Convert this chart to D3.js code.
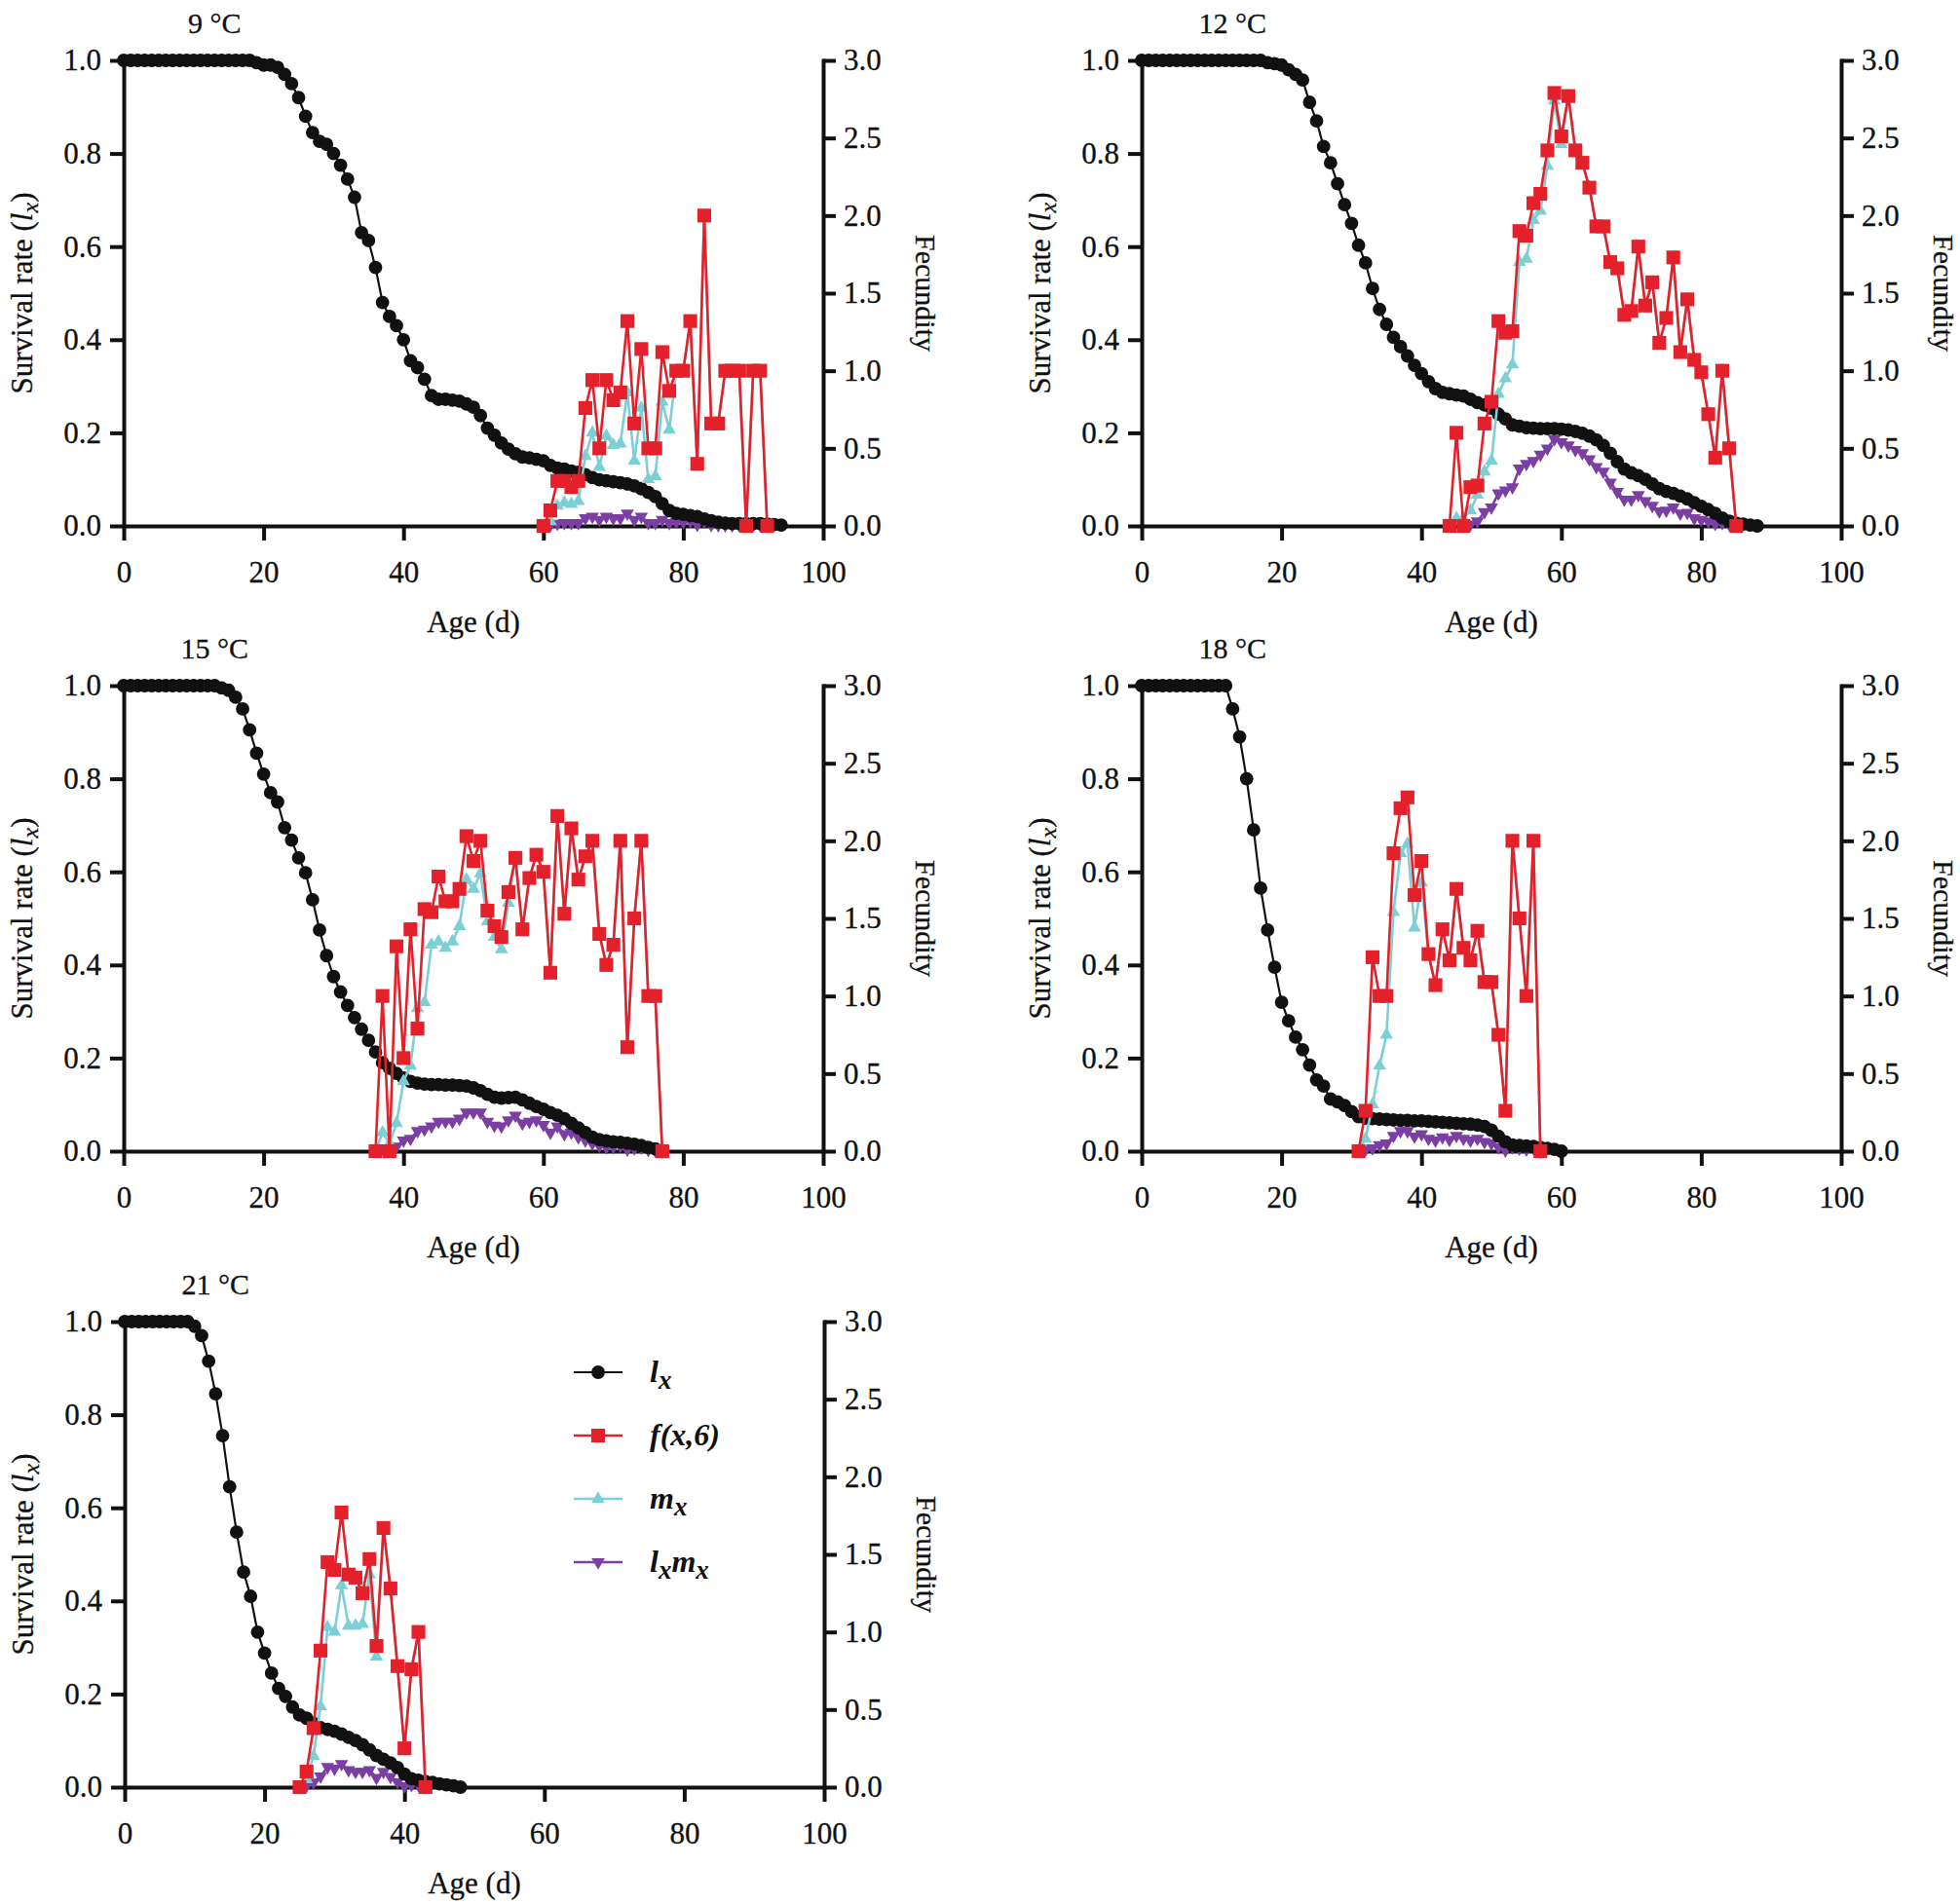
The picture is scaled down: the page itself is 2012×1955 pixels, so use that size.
<!DOCTYPE html>
<html>
<head>
<meta charset="utf-8">
<script src="https://cdn.jsdelivr.net/npm/d3@7"></script>
<style>
    body { margin: 0; background: #fff; }
</style>
</head>
<body>
<div class="canvas"></div>
<script>
// survival rate lx, one value per day starting at day 0
const lx9 = [
    1, 1, 1, 1, 1, 1, 1, 1, 1, 1,
    1, 1, 1, 1, 1, 1, 1, 1, 1, 0.995,
    0.99, 0.99, 0.985, 0.97, 0.95, 0.92, 0.88, 0.845, 0.826, 0.82,
    0.80, 0.775, 0.745, 0.706, 0.63, 0.613, 0.555, 0.48, 0.45, 0.43,
    0.40, 0.355, 0.34, 0.315, 0.28, 0.272, 0.272, 0.27, 0.268, 0.262,
    0.255, 0.237, 0.21, 0.195, 0.178, 0.165, 0.155, 0.148, 0.146, 0.143,
    0.14, 0.13, 0.124, 0.122, 0.118, 0.115, 0.11, 0.104, 0.099, 0.097,
    0.095, 0.093, 0.09, 0.086, 0.08, 0.072, 0.063, 0.048, 0.033, 0.027,
    0.025, 0.022, 0.02, 0.015, 0.011, 0.008, 0.006, 0.005, 0.005, 0.005,
    0.005, 0.005, 0.004, 0.003, 0.002
];
const lx12 = [
    1, 1, 1, 1, 1, 1, 1, 1, 1, 1,
    1, 1, 1, 1, 1, 1, 1, 1, 0.995, 0.993,
    0.99, 0.98, 0.97, 0.958, 0.91, 0.87, 0.815, 0.78, 0.735, 0.69,
    0.65, 0.603, 0.565, 0.51, 0.465, 0.433, 0.405, 0.385, 0.365, 0.345,
    0.327, 0.31, 0.295, 0.287, 0.284, 0.281, 0.279, 0.272, 0.265, 0.26,
    0.253, 0.24, 0.23, 0.217, 0.214, 0.211, 0.21, 0.209, 0.209, 0.209,
    0.208, 0.206, 0.203, 0.199, 0.193, 0.185, 0.173, 0.156, 0.138, 0.122,
    0.114, 0.108, 0.1, 0.09, 0.08, 0.074, 0.07, 0.064, 0.058, 0.05,
    0.042, 0.035, 0.027, 0.017, 0.01, 0.006, 0.004, 0.002, 0
];
const lx15 = [
    1, 1, 1, 1, 1, 1, 1, 1, 1, 1,
    1, 1, 1, 1, 0.995, 0.99, 0.975, 0.95, 0.905, 0.855,
    0.81, 0.77, 0.75, 0.695, 0.668, 0.63, 0.598, 0.54, 0.475, 0.42,
    0.375, 0.342, 0.313, 0.287, 0.262, 0.238, 0.213, 0.19, 0.178, 0.167,
    0.157, 0.15, 0.146, 0.144, 0.143, 0.143, 0.142, 0.142, 0.141, 0.14,
    0.136, 0.13, 0.122, 0.116, 0.114, 0.115, 0.116, 0.11, 0.103, 0.096,
    0.09, 0.083, 0.077, 0.07, 0.06, 0.05, 0.04, 0.03, 0.025, 0.022,
    0.02, 0.019, 0.017, 0.015, 0.012, 0.008, 0.005, 0
];
const lx18 = [
    1, 1, 1, 1, 1, 1, 1, 1, 1, 1,
    1, 1, 1, 0.95, 0.89, 0.80, 0.69, 0.565, 0.475, 0.395,
    0.32, 0.28, 0.245, 0.218, 0.185, 0.153, 0.14, 0.112, 0.106, 0.098,
    0.085, 0.074, 0.071, 0.07, 0.069, 0.068, 0.067, 0.066, 0.066, 0.065,
    0.065, 0.064, 0.063, 0.062, 0.061, 0.06, 0.059, 0.058, 0.056, 0.053,
    0.045, 0.032, 0.02, 0.013, 0.012, 0.011, 0.01, 0.008, 0.006, 0.004,
    0
];
const lx21 = [
    1, 1, 1, 1, 1, 1, 1, 1, 1, 1,
    0.99, 0.97, 0.915, 0.845, 0.755, 0.645, 0.548, 0.462, 0.41, 0.333,
    0.288, 0.245, 0.212, 0.195, 0.172, 0.155, 0.148, 0.137, 0.128, 0.124,
    0.12, 0.114, 0.107, 0.1, 0.091, 0.08, 0.068, 0.06, 0.052, 0.042,
    0.028, 0.018, 0.015, 0.012, 0.01, 0.007, 0.005, 0.003, 0
];

// fecundity series: first day, then one value per day
const fx9Start = 60;
const fx9 = [0, 0.10, 0.29, 0.29, 0.25, 0.29, 0.76, 0.94, 0.50, 0.94, 0.81, 0.86, 1.32, 0.66, 1.14, 0.50, 0.50, 1.12, 0.87, 1.0, 1.0, 1.32, 0.40, 2.0, 0.66, 0.66, 1.0, 1.0, 1.0, 0, 1.0, 1.0, 0];
const mx9Start = 61;
const mx9 = [0.03, 0.13, 0.15, 0.14, 0.16, 0.45, 0.60, 0.38, 0.58, 0.52, 0.53, 0.86, 0.42, 0.76, 0.30, 0.32, 0.80, 0.62, 1.0, 1.0, 1.32, 0.40, 2.0, 0.66, 0.66, 1.0, 1.0, 1.0, 0, 1.0, 1.0, 0];
const lxmx9Start = 61;
const lxmx9 = [0.005, 0.015, 0.02, 0.02, 0.02, 0.05, 0.06, 0.04, 0.06, 0.05, 0.05, 0.08, 0.04, 0.06, 0.02, 0.02, 0.04, 0.02, 0.027, 0.025, 0.03, 0.008, 0.03, 0.007, 0.005, 0.006, 0.005, 0.005, 0, 0.005, 0.005, 0];

const fx12Start = 44;
const fx12 = [0, 0.60, 0, 0.25, 0.26, 0.66, 0.80, 1.32, 1.245, 1.255, 1.90, 1.87, 2.08, 2.14, 2.42, 2.79, 2.51, 2.77, 2.42, 2.34, 2.18, 1.93, 1.93, 1.70, 1.66, 1.36, 1.385, 1.80, 1.42, 1.57, 1.18, 1.34, 1.73, 1.12, 1.46, 1.07, 0.99, 0.72, 0.44, 1.0, 0.50, 0];
const mx12Start = 45;
const mx12 = [0.05, 0.05, 0.1, 0.2, 0.35, 0.42, 0.85, 0.95, 1.04, 1.70, 1.72, 1.97, 2.03, 2.32, 2.74, 2.46, 2.77, 2.42, 2.34, 2.18, 1.93, 1.93, 1.70, 1.66, 1.36, 1.385, 1.80, 1.42, 1.57, 1.18, 1.34, 1.73, 1.12, 1.46, 1.07, 0.99, 0.72, 0.44, 1.0, 0.50, 0];
const lxmx12Start = 46;
const lxmx12 = [0, 0.01, 0.03, 0.09, 0.12, 0.21, 0.23, 0.25, 0.37, 0.40, 0.42, 0.46, 0.50, 0.56, 0.54, 0.52, 0.49, 0.47, 0.43, 0.38, 0.35, 0.28, 0.22, 0.17, 0.17, 0.2, 0.16, 0.13, 0.095, 0.1, 0.12, 0.08, 0.085, 0.05, 0.04, 0.03, 0.015, 0.02, 0.01, 0];

const fx15Start = 36;
const fx15 = [0, 1.0, 0, 1.32, 0.60, 1.43, 0.79, 1.56, 1.54, 1.77, 1.61, 1.61, 1.69, 2.03, 1.87, 2.0, 1.55, 1.45, 1.38, 1.67, 1.89, 1.43, 1.76, 1.91, 1.80, 1.15, 2.16, 1.53, 2.08, 1.75, 1.90, 2.0, 1.40, 1.20, 1.33, 2.0, 0.67, 1.50, 2.0, 1.0, 1.0, 0];
const mx15Start = 36;
const mx15 = [0, 0.12, 0.05, 0.18, 0.45, 0.55, 0.92, 0.96, 1.33, 1.35, 1.31, 1.35, 1.45, 1.75, 1.69, 1.79, 1.48, 1.38, 1.30, 1.60, 1.89, 1.43, 1.76, 1.91, 1.80, 1.15, 2.16, 1.53, 2.08, 1.75, 1.90, 2.0, 1.40, 1.20, 1.33, 2.0, 0.67, 1.50, 2.0, 1.0, 1.0, 0];
const lxmx15Start = 37;
const lxmx15 = [0.02, 0.01, 0.03, 0.07, 0.08, 0.13, 0.14, 0.16, 0.19, 0.19, 0.19, 0.21, 0.25, 0.25, 0.25, 0.19, 0.165, 0.16, 0.2, 0.23, 0.18, 0.19, 0.2, 0.17, 0.12, 0.16, 0.11, 0.12, 0.09, 0.07, 0.05, 0.035, 0.025, 0.027, 0.035, 0.012, 0.02, 0.024, 0.008, 0.005, 0];

const fx18Start = 31;
const fx18 = [0, 0.26, 1.25, 1.0, 1.0, 1.92, 2.21, 2.28, 1.65, 1.87, 1.27, 1.07, 1.43, 1.23, 1.69, 1.31, 1.23, 1.42, 1.09, 1.09, 0.75, 0.26, 2.0, 1.5, 1.0, 2.0, 0];
const mx18Start = 31;
const mx18 = [0, 0.08, 0.3, 0.55, 0.75, 1.54, 1.92, 1.98, 1.44, 1.73, 1.27, 1.07, 1.43, 1.23, 1.69, 1.31, 1.23, 1.42, 1.09, 1.09, 0.75, 0.26, 2.0, 1.5, 1.0, 2.0, 0];
const lxmx18Start = 32;
const lxmx18 = [0.01, 0.02, 0.04, 0.05, 0.1, 0.13, 0.13, 0.095, 0.11, 0.08, 0.07, 0.09, 0.075, 0.1, 0.08, 0.07, 0.08, 0.06, 0.05, 0.025, 0.005, 0.026, 0.018, 0.011, 0.02, 0];

const fx21Start = 25;
const fx21 = [0, 0.1, 0.38, 0.88, 1.45, 1.40, 1.77, 1.37, 1.35, 1.25, 1.47, 0.91, 1.67, 1.28, 0.78, 0.25, 0.76, 1.0, 0];
const mx21Start = 26;
const mx21 = [0.05, 0.2, 0.52, 1.03, 1.0, 1.30, 1.04, 1.04, 1.05, 1.37, 0.84, 1.67, 1.28, 0.78, 0.25, 0.76, 1.0, 0];
const lxmx21Start = 26;
const lxmx21 = [0.01, 0.03, 0.07, 0.13, 0.12, 0.15, 0.11, 0.10, 0.1, 0.11, 0.06, 0.1, 0.067, 0.033, 0.007, 0.014, 0.015, 0];

const titles = ['9 °C', '12 °C', '15 °C', '18 °C', '21 °C'];
const ageTicks = [0, 20, 40, 60, 80, 100];
const survivalTicks = [0, 0.2, 0.4, 0.6, 0.8, 1.0];
const fecundityTicks = [0, 0.5, 1.0, 1.5, 2.0, 2.5, 3.0];

// ---- layout ----
const dims = { width: 718, height: 478 };
const spots = [
    { left: 127, top: 62 },
    { left: 1172, top: 62 },
    { left: 127, top: 704 },
    { left: 1172, top: 704 },
    { left: 128, top: 1357 },
];
const font = "'Liberation Serif', 'Times New Roman', serif";

const styles = {
    lx:   { colour: '#111111', symbol: d3.symbolCircle,   size: 150, width: 2.2 },
    fx:   { colour: '#e4202a', symbol: d3.symbolSquare,   size: 200, width: 2.6 },
    mx:   { colour: '#7dcfd6', symbol: d3.symbolTriangle, size: 80,  width: 2.6 },
    lxmx: { colour: '#7b3fa3', symbol: d3.symbolTriangle, size: 80,  width: 2.6, flip: true },
};

const series = (start, values) => values.map((v, i) => ({ age: start + i, v }));

const panels = [
    { lx: lx9,  fx: series(fx9Start, fx9),   mx: series(mx9Start, mx9),   lxmx: series(lxmx9Start, lxmx9) },
    { lx: lx12, fx: series(fx12Start, fx12), mx: series(mx12Start, mx12), lxmx: series(lxmx12Start, lxmx12) },
    { lx: lx15, fx: series(fx15Start, fx15), mx: series(mx15Start, mx15), lxmx: series(lxmx15Start, lxmx15) },
    { lx: lx18, fx: series(fx18Start, fx18), mx: series(mx18Start, mx18), lxmx: series(lxmx18Start, lxmx18) },
    { lx: lx21, fx: series(fx21Start, fx21), mx: series(mx21Start, mx21), lxmx: series(lxmx21Start, lxmx21) },
];

const svg = d3.select('.canvas')
    .append('svg')
    .attr('width', 2012)
    .attr('height', 1955)
    .style('display', 'block')
;

svg.append('rect')
    .attr('width', 2012)
    .attr('height', 1955)
    .attr('fill', '#fff')
;

const x = d3.scaleLinear().domain([0, 100]).range([0, dims.width]);
const yL = d3.scaleLinear().domain([0, 1]).range([dims.height, 0]);
const yR = d3.scaleLinear().domain([0, 3]).range([dims.height, 0]);

const styleAxis = (sel) => {
    sel.attr('font-family', font).attr('font-size', 31);
    sel.select('.domain').attr('stroke', '#111').attr('stroke-width', 4).attr('stroke-linecap', 'square');
    sel.selectAll('.tick line').attr('stroke', '#111').attr('stroke-width', 4);
    sel.selectAll('.tick text').attr('fill', '#111').attr('stroke', '#111').attr('stroke-width', 0.3);
};

const drawSeries = (g, data, yScale, st) => {
    const line = d3.line().x(d => x(d.age)).y(d => yScale(d.v));
    g.append('path')
        .datum(data)
        .attr('d', line)
        .attr('fill', 'none')
        .attr('stroke', st.colour)
        .attr('stroke-width', st.width)
        .attr('stroke-linejoin', 'round')
    ;
    const sym = d3.symbol().type(st.symbol).size(st.size);
    g.selectAll(null)
        .data(data)
        .enter()
        .append('path')
            .attr('d', sym)
            .attr('transform', d => `translate(${x(d.age)}, ${yScale(d.v)})${st.flip ? ' rotate(180)' : ''}`)
            .attr('fill', st.colour)
    ;
};

const drawPanel = (p, spot, title) => {
    const g = svg.append('g')
        .attr('transform', `translate(${spot.left}, ${spot.top})`)
    ;

    // axes
    g.append('g')
        .attr('transform', `translate(0, ${dims.height})`)
        .call(d3.axisBottom(x).tickValues(ageTicks).tickSize(15).tickSizeOuter(0).tickPadding(21))
        .call(styleAxis)
    ;
    g.append('g')
        .call(d3.axisLeft(yL).tickValues(survivalTicks).tickFormat(d3.format('.1f')).tickSize(14).tickSizeOuter(0).tickPadding(9))
        .call(styleAxis)
    ;
    g.append('g')
        .attr('transform', `translate(${dims.width}, 0)`)
        .call(d3.axisRight(yR).tickValues(fecundityTicks).tickFormat(d3.format('.1f')).tickSize(13).tickSizeOuter(0).tickPadding(8))
        .call(styleAxis)
    ;

    // axis titles
    g.append('text')
        .attr('x', dims.width / 2)
        .attr('y', dims.height + 109)
        .attr('text-anchor', 'middle')
        .attr('font-family', font)
        .attr('font-size', 31)
        .attr('fill', '#111')
        .attr('stroke', '#111')
        .attr('stroke-width', 0.3)
        .text('Age (d)')
    ;

    const yl = g.append('text')
        .attr('transform', `translate(-94, ${dims.height / 2}) rotate(-90)`)
        .attr('text-anchor', 'middle')
        .attr('font-family', font)
        .attr('font-size', 31)
        .attr('fill', '#111')
        .attr('stroke', '#111')
        .attr('stroke-width', 0.3)
    ;
    yl.append('tspan').text('Survival rate (');
    yl.append('tspan').attr('font-style', 'italic').text('l');
    yl.append('tspan').attr('font-style', 'italic').attr('font-size', 24).attr('dy', 6).text('x');
    yl.append('tspan').attr('dy', -6).text(')');

    g.append('text')
        .attr('transform', `translate(${dims.width + 95}, ${dims.height / 2}) rotate(90)`)
        .attr('text-anchor', 'middle')
        .attr('font-family', font)
        .attr('font-size', 30)
        .attr('fill', '#111')
        .attr('stroke', '#111')
        .attr('stroke-width', 0.3)
        .text('Fecundity')
    ;

    g.append('text')
        .attr('x', x(13))
        .attr('y', -28)
        .attr('text-anchor', 'middle')
        .attr('font-family', font)
        .attr('font-size', 30)
        .attr('fill', '#111')
        .attr('stroke', '#111')
        .attr('stroke-width', 0.3)
        .text(title)
    ;

    // data
    drawSeries(g, p.lxmx, yR, styles.lxmx);
    drawSeries(g, p.lx.map((v, i) => ({ age: i, v })), yL, styles.lx);
    drawSeries(g, p.mx, yR, styles.mx);
    drawSeries(g, p.fx, yR, styles.fx);
};

panels.forEach((p, i) => drawPanel(p, spots[i], titles[i]));

// legend, inside the 21 °C panel
const legendItems = [
    { key: 'lx',   parts: [['l', 0], ['x', 1]] },
    { key: 'fx',   parts: [['f(x,6)', 0]] },
    { key: 'mx',   parts: [['m', 0], ['x', 1]] },
    { key: 'lxmx', parts: [['l', 0], ['x', 1], ['m', 0], ['x', 1]] },
];

const legend = svg.append('g')
    .attr('transform', 'translate(589, 1409)')
;

legendItems.forEach((item, i) => {
    const st = styles[item.key];
    const row = legend.append('g').attr('transform', `translate(0, ${i * 65})`);
    row.append('line')
        .attr('x1', 0).attr('x2', 50)
        .attr('stroke', st.colour)
        .attr('stroke-width', st.width)
    ;
    row.append('path')
        .attr('d', d3.symbol().type(st.symbol).size(st.size)())
        .attr('transform', `translate(25, 0)${st.flip ? ' rotate(180)' : ''}`)
        .attr('fill', st.colour)
    ;
    const t = row.append('text')
        .attr('x', 78)
        .attr('y', 10)
        .attr('font-family', font)
        .attr('font-size', 32)
        .attr('font-weight', 'bold')
        .attr('font-style', 'italic')
        .attr('fill', '#111')
    ;
    let low = 0;
    item.parts.forEach(([s, sub]) => {
        const dy = (sub ? 7 : 0) - low;
        low = sub ? 7 : 0;
        t.append('tspan')
            .attr('dy', dy)
            .attr('font-size', sub ? 27 : 32)
            .text(s)
        ;
    });
});
</script>
</body>
</html>
